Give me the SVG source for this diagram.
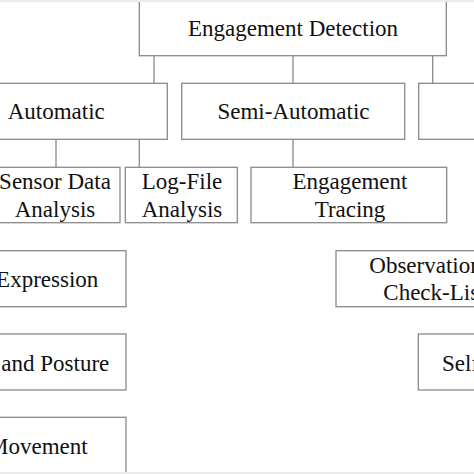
<svg xmlns="http://www.w3.org/2000/svg" width="474" height="474" viewBox="0 0 474 474">
<defs>
<style>
.box{fill:#fff;stroke:#8a8a8a;stroke-width:1.3}
.ln{stroke:#8a8a8a;stroke-width:1.3;fill:none}
.t{font-family:'Liberation Serif','Times New Roman',Times,'DejaVu Serif',serif;font-size:23px;fill:#111}
.m{text-anchor:middle}
.e{text-anchor:end}
</style>
</defs>
<rect x="0" y="0" width="474" height="474" fill="#fff"/>
<g id="connectors">
<line class="ln" x1="154" y1="55.7" x2="154" y2="83.3"/>
<line class="ln" x1="293" y1="55.7" x2="293" y2="83.3"/>
<line class="ln" x1="432.7" y1="55.7" x2="432.7" y2="83.3"/>
<line class="ln" x1="56" y1="139.3" x2="56" y2="167.3"/>
<line class="ln" x1="139.3" y1="139.3" x2="139.3" y2="167.3"/>
<line class="ln" x1="293" y1="139.3" x2="293" y2="167.3"/>
</g>
<g class="t" font-family="Liberation Serif, serif">
<g id="engagement-detection"><rect class="box" x="139.3" y="-1" width="307" height="56.7"/><text class="m" x="293" y="35.5">Engagement Detection</text></g>
<g id="automatic"><rect class="box" x="-55" y="83.3" width="222.3" height="56"/><text class="m" x="56.2" y="119">Automatic</text></g>
<g id="semi-automatic"><rect class="box" x="181.7" y="83.3" width="223" height="56"/><text class="m" x="293.5" y="119">Semi-Automatic</text></g>
<g id="third"><rect class="box" x="418.7" y="83.3" width="223" height="56"/></g>
<g id="sensor-data"><rect class="box" x="-10" y="167.3" width="130" height="55.4"/><text class="m" x="55" y="189.3">Sensor Data</text><text class="m" x="55" y="216.7">Analysis</text></g>
<g id="log-file"><rect class="box" x="125.3" y="167.3" width="112" height="55.4"/><text class="m" x="182" y="189.3">Log-File</text><text class="m" x="182" y="216.7">Analysis</text></g>
<g id="engagement-tracing"><rect class="box" x="251" y="167.3" width="195.7" height="55.4"/><text class="m" x="350" y="189.3">Engagement</text><text class="m" x="350" y="216.7">Tracing</text></g>
<g id="expression"><rect class="box" x="-100" y="250.7" width="226" height="56"/><text class="e" x="98.3" y="286.7">Expression</text></g>
<g id="observation"><rect class="box" x="336" y="250.7" width="200" height="56"/><text x="369.3" y="272.5">Observation</text><text x="383.3" y="300">Check-List</text></g>
<g id="posture"><rect class="box" x="-100" y="334" width="226" height="56"/><text class="e" x="109.3" y="370.7">and Posture</text></g>
<g id="self"><rect class="box" x="418.3" y="334" width="200" height="56"/><text x="442" y="370.5">Self</text></g>
<g id="movement"><rect class="box" x="-100" y="417.3" width="226" height="70"/><text class="e" x="87.7" y="454">Movement</text></g>
</g>
<rect x="0" y="0" width="474" height="2" fill="#ececec"/>
<rect x="0" y="472" width="474" height="2" fill="#ececec"/>
</svg>
